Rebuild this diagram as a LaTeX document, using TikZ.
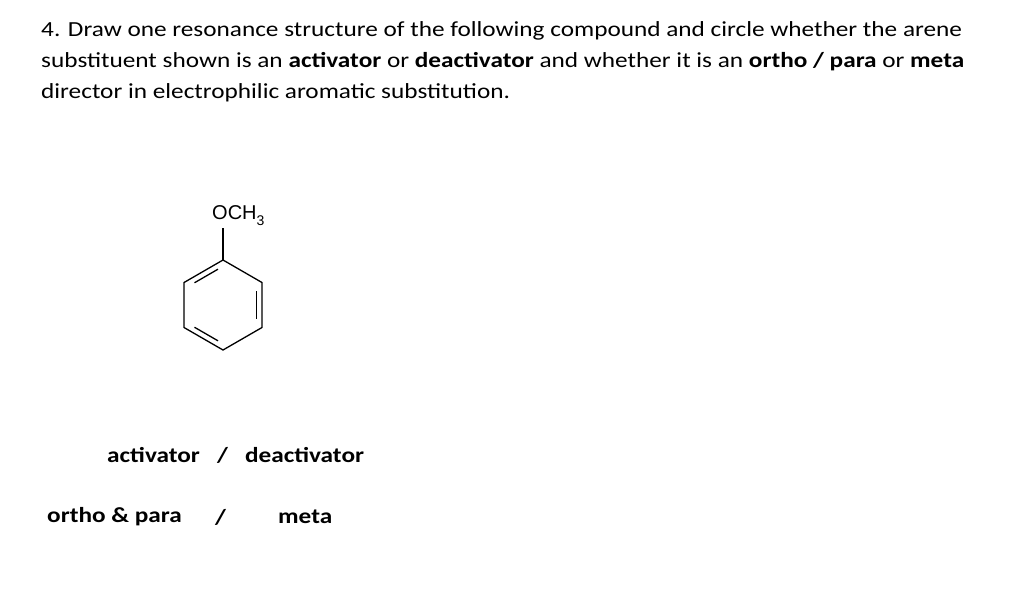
\documentclass[tikz,border=0pt]{standalone}
\usepackage{fontspec}
\setmainfont{Carlito}[FakeStretch=1.175]
\newfontfamily\arial{Liberation Sans}
\usetikzlibrary{calc}
\begin{document}
\begin{tikzpicture}[x=1pt,y=-1pt,
  txt/.style={anchor=west,inner sep=0pt,font=\fontsize{21.5}{26}\selectfont},
  btxt/.style={txt,font=\bfseries\fontsize{21.5}{26}\selectfont},
  bond/.style={line width=1.3pt}]
\useasboundingbox[fill=white] (0,0) rectangle (1024,595);
\node[txt] (l1) at (41,31) {4. Draw one resonance structure of the following compound and circle whether the arene};
\node[txt] (l2) at (41,62) {substituent shown is an \textbf{activator} or \textbf{deactivator} and whether it is an \textbf{ortho / para} or \textbf{meta}};
\node[txt] (l3) at (41,93) {director in electrophilic aromatic substitution.};
% benzene
\foreach \i/\a in {1/270,2/210,3/150,4/90,5/30,6/330}
  \coordinate (v\i) at ($(223,305)+(\a:45)$);
\draw[bond,line join=miter] (v1)--(v2)--(v3)--(v4)--(v5)--(v6)--cycle;
\coordinate (c) at (223,305);
\draw[bond] ($(v1)!0.15!(v2)!0.14!(c)$) -- ($(v2)!0.15!(v1)!0.14!(c)$);
\draw[bond] ($(v5)!0.15!(v6)!0.14!(c)$) -- ($(v6)!0.15!(v5)!0.14!(c)$);
\draw[bond] ($(v3)!0.15!(v4)!0.14!(c)$) -- ($(v4)!0.15!(v3)!0.14!(c)$);
\node[inner sep=1pt,anchor=west,font=\arial\fontsize{20}{24}\selectfont] (o) at (211,216) {OCH\raisebox{-0.3em}{\fontsize{14}{16}\selectfont 3}};
\coordinate (ob) at (223,228);
\draw[bond] (v1) -- (ob);
\node[btxt] (a) at (107,455) {activator \ \ / \ \ deactivator};
\node[btxt] (b) at (47,517) {ortho \& para};
\node[btxt] (s) at (215,517) {/};
\node[btxt] (m) at (278,517) {meta};
\end{tikzpicture}
\end{document}
